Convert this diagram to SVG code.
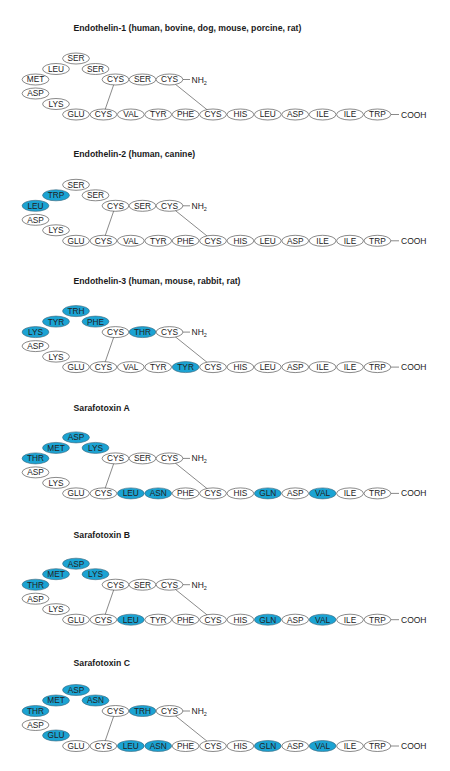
<svg xmlns="http://www.w3.org/2000/svg" width="450" height="771" viewBox="0 0 450 771">
<style>
.t{font-family:"Liberation Sans",Arial,sans-serif;font-weight:bold;font-size:8.7px;fill:#1a1a1a}
.n ellipse{fill:#fff;stroke:#4a4a4a;stroke-width:0.65}
.n.h ellipse{fill:#1ba3d3;stroke:#3d6a80}
.n text,.lab{font-family:"Liberation Sans",Arial,sans-serif;fill:#222}
.n text{text-anchor:middle;font-size:8.3px}
.lab{font-size:8.5px}
.c line{stroke:#4a4a4a;stroke-width:0.65}
</style>
<rect width="450" height="771" fill="#fff"/>

<g id="panel-1">
<text class="t" x="73.5" y="30.5">Endothelin-1 (human, bovine, dog, mouse, porcine, rat)</text>
<g id="p1-connectors" class="c"><line x1="115.5" y1="79.5" x2="103.4" y2="114.5"/><line x1="169.5" y1="79.5" x2="213" y2="114.5"/><line x1="183" y1="79.5" x2="190" y2="79.5"/><line x1="390.8" y1="114.5" x2="399" y2="114.5"/></g>
<g id="p1-l4" class="n"><ellipse cx="76" cy="58.5" rx="13.4" ry="5.5"/><text x="76" y="61.45">SER</text></g>
<g id="p1-l3" class="n"><ellipse cx="56" cy="69" rx="13.4" ry="5.5"/><text x="56" y="71.95">LEU</text></g>
<g id="p1-r1" class="n"><ellipse cx="95.5" cy="69" rx="13.4" ry="5.5"/><text x="95.5" y="71.95">SER</text></g>
<g id="p1-l2" class="n"><ellipse cx="35.5" cy="79.5" rx="13.4" ry="5.5"/><text x="35.5" y="82.45">MET</text></g>
<g id="p1-u1" class="n"><ellipse cx="115.5" cy="79.5" rx="13.4" ry="5.5"/><text x="115.5" y="82.45">CYS</text></g>
<g id="p1-u2" class="n"><ellipse cx="142.5" cy="79.5" rx="13.4" ry="5.5"/><text x="142.5" y="82.45">SER</text></g>
<g id="p1-u3" class="n"><ellipse cx="169.5" cy="79.5" rx="13.4" ry="5.5"/><text x="169.5" y="82.45">CYS</text></g>
<g id="p1-asp" class="n"><ellipse cx="35.5" cy="93.5" rx="13.4" ry="5.5"/><text x="35.5" y="96.45">ASP</text></g>
<g id="p1-lys" class="n"><ellipse cx="56" cy="104" rx="13.4" ry="5.5"/><text x="56" y="106.95">LYS</text></g>
<g id="p1-m1" class="n"><ellipse cx="76" cy="114.5" rx="13.4" ry="5.5"/><text x="76" y="117.45">GLU</text></g>
<g id="p1-m2" class="n"><ellipse cx="103.4" cy="114.5" rx="13.4" ry="5.5"/><text x="103.4" y="117.45">CYS</text></g>
<g id="p1-m3" class="n"><ellipse cx="130.8" cy="114.5" rx="13.4" ry="5.5"/><text x="130.8" y="117.45">VAL</text></g>
<g id="p1-m4" class="n"><ellipse cx="158.2" cy="114.5" rx="13.4" ry="5.5"/><text x="158.2" y="117.45">TYR</text></g>
<g id="p1-m5" class="n"><ellipse cx="185.6" cy="114.5" rx="13.4" ry="5.5"/><text x="185.6" y="117.45">PHE</text></g>
<g id="p1-m6" class="n"><ellipse cx="213" cy="114.5" rx="13.4" ry="5.5"/><text x="213" y="117.45">CYS</text></g>
<g id="p1-m7" class="n"><ellipse cx="240.4" cy="114.5" rx="13.4" ry="5.5"/><text x="240.4" y="117.45">HIS</text></g>
<g id="p1-m8" class="n"><ellipse cx="267.8" cy="114.5" rx="13.4" ry="5.5"/><text x="267.8" y="117.45">LEU</text></g>
<g id="p1-m9" class="n"><ellipse cx="295.2" cy="114.5" rx="13.4" ry="5.5"/><text x="295.2" y="117.45">ASP</text></g>
<g id="p1-m10" class="n"><ellipse cx="322.6" cy="114.5" rx="13.4" ry="5.5"/><text x="322.6" y="117.45">ILE</text></g>
<g id="p1-m11" class="n"><ellipse cx="350" cy="114.5" rx="13.4" ry="5.5"/><text x="350" y="117.45">ILE</text></g>
<g id="p1-m12" class="n"><ellipse cx="377.4" cy="114.5" rx="13.4" ry="5.5"/><text x="377.4" y="117.45">TRP</text></g>
<text class="lab" x="191.5" y="82.5">NH<tspan font-size="5.5" dy="2">2</tspan></text>
<text class="lab" x="401" y="117.5">COOH</text>
</g>

<g id="panel-2" transform="translate(0,126.3)">
<text class="t" x="73.5" y="31.2">Endothelin-2 (human, canine)</text>
<g id="p2-connectors" class="c"><line x1="115.5" y1="79.5" x2="103.4" y2="114.5"/><line x1="169.5" y1="79.5" x2="213" y2="114.5"/><line x1="183" y1="79.5" x2="190" y2="79.5"/><line x1="390.8" y1="114.5" x2="399" y2="114.5"/></g>
<g id="p2-l4" class="n"><ellipse cx="76" cy="58.5" rx="13.4" ry="5.5"/><text x="76" y="61.45">SER</text></g>
<g id="p2-l3" class="n h"><ellipse cx="56" cy="69" rx="13.4" ry="5.5"/><text x="56" y="71.95">TRP</text></g>
<g id="p2-r1" class="n"><ellipse cx="95.5" cy="69" rx="13.4" ry="5.5"/><text x="95.5" y="71.95">SER</text></g>
<g id="p2-l2" class="n h"><ellipse cx="35.5" cy="79.5" rx="13.4" ry="5.5"/><text x="35.5" y="82.45">LEU</text></g>
<g id="p2-u1" class="n"><ellipse cx="115.5" cy="79.5" rx="13.4" ry="5.5"/><text x="115.5" y="82.45">CYS</text></g>
<g id="p2-u2" class="n"><ellipse cx="142.5" cy="79.5" rx="13.4" ry="5.5"/><text x="142.5" y="82.45">SER</text></g>
<g id="p2-u3" class="n"><ellipse cx="169.5" cy="79.5" rx="13.4" ry="5.5"/><text x="169.5" y="82.45">CYS</text></g>
<g id="p2-asp" class="n"><ellipse cx="35.5" cy="93.5" rx="13.4" ry="5.5"/><text x="35.5" y="96.45">ASP</text></g>
<g id="p2-lys" class="n"><ellipse cx="56" cy="104" rx="13.4" ry="5.5"/><text x="56" y="106.95">LYS</text></g>
<g id="p2-m1" class="n"><ellipse cx="76" cy="114.5" rx="13.4" ry="5.5"/><text x="76" y="117.45">GLU</text></g>
<g id="p2-m2" class="n"><ellipse cx="103.4" cy="114.5" rx="13.4" ry="5.5"/><text x="103.4" y="117.45">CYS</text></g>
<g id="p2-m3" class="n"><ellipse cx="130.8" cy="114.5" rx="13.4" ry="5.5"/><text x="130.8" y="117.45">VAL</text></g>
<g id="p2-m4" class="n"><ellipse cx="158.2" cy="114.5" rx="13.4" ry="5.5"/><text x="158.2" y="117.45">TYR</text></g>
<g id="p2-m5" class="n"><ellipse cx="185.6" cy="114.5" rx="13.4" ry="5.5"/><text x="185.6" y="117.45">PHE</text></g>
<g id="p2-m6" class="n"><ellipse cx="213" cy="114.5" rx="13.4" ry="5.5"/><text x="213" y="117.45">CYS</text></g>
<g id="p2-m7" class="n"><ellipse cx="240.4" cy="114.5" rx="13.4" ry="5.5"/><text x="240.4" y="117.45">HIS</text></g>
<g id="p2-m8" class="n"><ellipse cx="267.8" cy="114.5" rx="13.4" ry="5.5"/><text x="267.8" y="117.45">LEU</text></g>
<g id="p2-m9" class="n"><ellipse cx="295.2" cy="114.5" rx="13.4" ry="5.5"/><text x="295.2" y="117.45">ASP</text></g>
<g id="p2-m10" class="n"><ellipse cx="322.6" cy="114.5" rx="13.4" ry="5.5"/><text x="322.6" y="117.45">ILE</text></g>
<g id="p2-m11" class="n"><ellipse cx="350" cy="114.5" rx="13.4" ry="5.5"/><text x="350" y="117.45">ILE</text></g>
<g id="p2-m12" class="n"><ellipse cx="377.4" cy="114.5" rx="13.4" ry="5.5"/><text x="377.4" y="117.45">TRP</text></g>
<text class="lab" x="191.5" y="82.5">NH<tspan font-size="5.5" dy="2">2</tspan></text>
<text class="lab" x="401" y="117.5">COOH</text>
</g>

<g id="panel-3" transform="translate(0,252.6)">
<text class="t" x="73.5" y="31.9">Endothelin-3 (human, mouse, rabbit, rat)</text>
<g id="p3-connectors" class="c"><line x1="115.5" y1="79.5" x2="103.4" y2="114.5"/><line x1="169.5" y1="79.5" x2="213" y2="114.5"/><line x1="183" y1="79.5" x2="190" y2="79.5"/><line x1="390.8" y1="114.5" x2="399" y2="114.5"/></g>
<g id="p3-l4" class="n h"><ellipse cx="76" cy="58.5" rx="13.4" ry="5.5"/><text x="76" y="61.45">TRH</text></g>
<g id="p3-l3" class="n h"><ellipse cx="56" cy="69" rx="13.4" ry="5.5"/><text x="56" y="71.95">TYR</text></g>
<g id="p3-r1" class="n h"><ellipse cx="95.5" cy="69" rx="13.4" ry="5.5"/><text x="95.5" y="71.95">PHE</text></g>
<g id="p3-l2" class="n h"><ellipse cx="35.5" cy="79.5" rx="13.4" ry="5.5"/><text x="35.5" y="82.45">LYS</text></g>
<g id="p3-u1" class="n"><ellipse cx="115.5" cy="79.5" rx="13.4" ry="5.5"/><text x="115.5" y="82.45">CYS</text></g>
<g id="p3-u2" class="n h"><ellipse cx="142.5" cy="79.5" rx="13.4" ry="5.5"/><text x="142.5" y="82.45">THR</text></g>
<g id="p3-u3" class="n"><ellipse cx="169.5" cy="79.5" rx="13.4" ry="5.5"/><text x="169.5" y="82.45">CYS</text></g>
<g id="p3-asp" class="n"><ellipse cx="35.5" cy="93.5" rx="13.4" ry="5.5"/><text x="35.5" y="96.45">ASP</text></g>
<g id="p3-lys" class="n"><ellipse cx="56" cy="104" rx="13.4" ry="5.5"/><text x="56" y="106.95">LYS</text></g>
<g id="p3-m1" class="n"><ellipse cx="76" cy="114.5" rx="13.4" ry="5.5"/><text x="76" y="117.45">GLU</text></g>
<g id="p3-m2" class="n"><ellipse cx="103.4" cy="114.5" rx="13.4" ry="5.5"/><text x="103.4" y="117.45">CYS</text></g>
<g id="p3-m3" class="n"><ellipse cx="130.8" cy="114.5" rx="13.4" ry="5.5"/><text x="130.8" y="117.45">VAL</text></g>
<g id="p3-m4" class="n"><ellipse cx="158.2" cy="114.5" rx="13.4" ry="5.5"/><text x="158.2" y="117.45">TYR</text></g>
<g id="p3-m5" class="n h"><ellipse cx="185.6" cy="114.5" rx="13.4" ry="5.5"/><text x="185.6" y="117.45">TYR</text></g>
<g id="p3-m6" class="n"><ellipse cx="213" cy="114.5" rx="13.4" ry="5.5"/><text x="213" y="117.45">CYS</text></g>
<g id="p3-m7" class="n"><ellipse cx="240.4" cy="114.5" rx="13.4" ry="5.5"/><text x="240.4" y="117.45">HIS</text></g>
<g id="p3-m8" class="n"><ellipse cx="267.8" cy="114.5" rx="13.4" ry="5.5"/><text x="267.8" y="117.45">LEU</text></g>
<g id="p3-m9" class="n"><ellipse cx="295.2" cy="114.5" rx="13.4" ry="5.5"/><text x="295.2" y="117.45">ASP</text></g>
<g id="p3-m10" class="n"><ellipse cx="322.6" cy="114.5" rx="13.4" ry="5.5"/><text x="322.6" y="117.45">ILE</text></g>
<g id="p3-m11" class="n"><ellipse cx="350" cy="114.5" rx="13.4" ry="5.5"/><text x="350" y="117.45">ILE</text></g>
<g id="p3-m12" class="n"><ellipse cx="377.4" cy="114.5" rx="13.4" ry="5.5"/><text x="377.4" y="117.45">TRP</text></g>
<text class="lab" x="191.5" y="82.5">NH<tspan font-size="5.5" dy="2">2</tspan></text>
<text class="lab" x="401" y="117.5">COOH</text>
</g>

<g id="panel-4" transform="translate(0,378.9)">
<text class="t" x="73.5" y="32.6">Sarafotoxin A</text>
<g id="p4-connectors" class="c"><line x1="115.5" y1="79.5" x2="103.4" y2="114.5"/><line x1="169.5" y1="79.5" x2="213" y2="114.5"/><line x1="183" y1="79.5" x2="190" y2="79.5"/><line x1="390.8" y1="114.5" x2="399" y2="114.5"/></g>
<g id="p4-l4" class="n h"><ellipse cx="76" cy="58.5" rx="13.4" ry="5.5"/><text x="76" y="61.45">ASP</text></g>
<g id="p4-l3" class="n h"><ellipse cx="56" cy="69" rx="13.4" ry="5.5"/><text x="56" y="71.95">MET</text></g>
<g id="p4-r1" class="n h"><ellipse cx="95.5" cy="69" rx="13.4" ry="5.5"/><text x="95.5" y="71.95">LYS</text></g>
<g id="p4-l2" class="n h"><ellipse cx="35.5" cy="79.5" rx="13.4" ry="5.5"/><text x="35.5" y="82.45">THR</text></g>
<g id="p4-u1" class="n"><ellipse cx="115.5" cy="79.5" rx="13.4" ry="5.5"/><text x="115.5" y="82.45">CYS</text></g>
<g id="p4-u2" class="n"><ellipse cx="142.5" cy="79.5" rx="13.4" ry="5.5"/><text x="142.5" y="82.45">SER</text></g>
<g id="p4-u3" class="n"><ellipse cx="169.5" cy="79.5" rx="13.4" ry="5.5"/><text x="169.5" y="82.45">CYS</text></g>
<g id="p4-asp" class="n"><ellipse cx="35.5" cy="93.5" rx="13.4" ry="5.5"/><text x="35.5" y="96.45">ASP</text></g>
<g id="p4-lys" class="n"><ellipse cx="56" cy="104" rx="13.4" ry="5.5"/><text x="56" y="106.95">LYS</text></g>
<g id="p4-m1" class="n"><ellipse cx="76" cy="114.5" rx="13.4" ry="5.5"/><text x="76" y="117.45">GLU</text></g>
<g id="p4-m2" class="n"><ellipse cx="103.4" cy="114.5" rx="13.4" ry="5.5"/><text x="103.4" y="117.45">CYS</text></g>
<g id="p4-m3" class="n h"><ellipse cx="130.8" cy="114.5" rx="13.4" ry="5.5"/><text x="130.8" y="117.45">LEU</text></g>
<g id="p4-m4" class="n h"><ellipse cx="158.2" cy="114.5" rx="13.4" ry="5.5"/><text x="158.2" y="117.45">ASN</text></g>
<g id="p4-m5" class="n"><ellipse cx="185.6" cy="114.5" rx="13.4" ry="5.5"/><text x="185.6" y="117.45">PHE</text></g>
<g id="p4-m6" class="n"><ellipse cx="213" cy="114.5" rx="13.4" ry="5.5"/><text x="213" y="117.45">CYS</text></g>
<g id="p4-m7" class="n"><ellipse cx="240.4" cy="114.5" rx="13.4" ry="5.5"/><text x="240.4" y="117.45">HIS</text></g>
<g id="p4-m8" class="n h"><ellipse cx="267.8" cy="114.5" rx="13.4" ry="5.5"/><text x="267.8" y="117.45">GLN</text></g>
<g id="p4-m9" class="n"><ellipse cx="295.2" cy="114.5" rx="13.4" ry="5.5"/><text x="295.2" y="117.45">ASP</text></g>
<g id="p4-m10" class="n h"><ellipse cx="322.6" cy="114.5" rx="13.4" ry="5.5"/><text x="322.6" y="117.45">VAL</text></g>
<g id="p4-m11" class="n"><ellipse cx="350" cy="114.5" rx="13.4" ry="5.5"/><text x="350" y="117.45">ILE</text></g>
<g id="p4-m12" class="n"><ellipse cx="377.4" cy="114.5" rx="13.4" ry="5.5"/><text x="377.4" y="117.45">TRP</text></g>
<text class="lab" x="191.5" y="82.5">NH<tspan font-size="5.5" dy="2">2</tspan></text>
<text class="lab" x="401" y="117.5">COOH</text>
</g>

<g id="panel-5" transform="translate(0,505.2)">
<text class="t" x="73.5" y="33.3">Sarafotoxin B</text>
<g id="p5-connectors" class="c"><line x1="115.5" y1="79.5" x2="103.4" y2="114.5"/><line x1="169.5" y1="79.5" x2="213" y2="114.5"/><line x1="183" y1="79.5" x2="190" y2="79.5"/><line x1="390.8" y1="114.5" x2="399" y2="114.5"/></g>
<g id="p5-l4" class="n h"><ellipse cx="76" cy="58.5" rx="13.4" ry="5.5"/><text x="76" y="61.45">ASP</text></g>
<g id="p5-l3" class="n h"><ellipse cx="56" cy="69" rx="13.4" ry="5.5"/><text x="56" y="71.95">MET</text></g>
<g id="p5-r1" class="n h"><ellipse cx="95.5" cy="69" rx="13.4" ry="5.5"/><text x="95.5" y="71.95">LYS</text></g>
<g id="p5-l2" class="n h"><ellipse cx="35.5" cy="79.5" rx="13.4" ry="5.5"/><text x="35.5" y="82.45">THR</text></g>
<g id="p5-u1" class="n"><ellipse cx="115.5" cy="79.5" rx="13.4" ry="5.5"/><text x="115.5" y="82.45">CYS</text></g>
<g id="p5-u2" class="n"><ellipse cx="142.5" cy="79.5" rx="13.4" ry="5.5"/><text x="142.5" y="82.45">SER</text></g>
<g id="p5-u3" class="n"><ellipse cx="169.5" cy="79.5" rx="13.4" ry="5.5"/><text x="169.5" y="82.45">CYS</text></g>
<g id="p5-asp" class="n"><ellipse cx="35.5" cy="93.5" rx="13.4" ry="5.5"/><text x="35.5" y="96.45">ASP</text></g>
<g id="p5-lys" class="n"><ellipse cx="56" cy="104" rx="13.4" ry="5.5"/><text x="56" y="106.95">LYS</text></g>
<g id="p5-m1" class="n"><ellipse cx="76" cy="114.5" rx="13.4" ry="5.5"/><text x="76" y="117.45">GLU</text></g>
<g id="p5-m2" class="n"><ellipse cx="103.4" cy="114.5" rx="13.4" ry="5.5"/><text x="103.4" y="117.45">CYS</text></g>
<g id="p5-m3" class="n h"><ellipse cx="130.8" cy="114.5" rx="13.4" ry="5.5"/><text x="130.8" y="117.45">LEU</text></g>
<g id="p5-m4" class="n"><ellipse cx="158.2" cy="114.5" rx="13.4" ry="5.5"/><text x="158.2" y="117.45">TYR</text></g>
<g id="p5-m5" class="n"><ellipse cx="185.6" cy="114.5" rx="13.4" ry="5.5"/><text x="185.6" y="117.45">PHE</text></g>
<g id="p5-m6" class="n"><ellipse cx="213" cy="114.5" rx="13.4" ry="5.5"/><text x="213" y="117.45">CYS</text></g>
<g id="p5-m7" class="n"><ellipse cx="240.4" cy="114.5" rx="13.4" ry="5.5"/><text x="240.4" y="117.45">HIS</text></g>
<g id="p5-m8" class="n h"><ellipse cx="267.8" cy="114.5" rx="13.4" ry="5.5"/><text x="267.8" y="117.45">GLN</text></g>
<g id="p5-m9" class="n"><ellipse cx="295.2" cy="114.5" rx="13.4" ry="5.5"/><text x="295.2" y="117.45">ASP</text></g>
<g id="p5-m10" class="n h"><ellipse cx="322.6" cy="114.5" rx="13.4" ry="5.5"/><text x="322.6" y="117.45">VAL</text></g>
<g id="p5-m11" class="n"><ellipse cx="350" cy="114.5" rx="13.4" ry="5.5"/><text x="350" y="117.45">ILE</text></g>
<g id="p5-m12" class="n"><ellipse cx="377.4" cy="114.5" rx="13.4" ry="5.5"/><text x="377.4" y="117.45">TRP</text></g>
<text class="lab" x="191.5" y="82.5">NH<tspan font-size="5.5" dy="2">2</tspan></text>
<text class="lab" x="401" y="117.5">COOH</text>
</g>

<g id="panel-6" transform="translate(0,631.5)">
<text class="t" x="73.5" y="34">Sarafotoxin C</text>
<g id="p6-connectors" class="c"><line x1="115.5" y1="79.5" x2="103.4" y2="114.5"/><line x1="169.5" y1="79.5" x2="213" y2="114.5"/><line x1="183" y1="79.5" x2="190" y2="79.5"/><line x1="390.8" y1="114.5" x2="399" y2="114.5"/></g>
<g id="p6-l4" class="n h"><ellipse cx="76" cy="58.5" rx="13.4" ry="5.5"/><text x="76" y="61.45">ASP</text></g>
<g id="p6-l3" class="n h"><ellipse cx="56" cy="69" rx="13.4" ry="5.5"/><text x="56" y="71.95">MET</text></g>
<g id="p6-r1" class="n h"><ellipse cx="95.5" cy="69" rx="13.4" ry="5.5"/><text x="95.5" y="71.95">ASN</text></g>
<g id="p6-l2" class="n h"><ellipse cx="35.5" cy="79.5" rx="13.4" ry="5.5"/><text x="35.5" y="82.45">THR</text></g>
<g id="p6-u1" class="n"><ellipse cx="115.5" cy="79.5" rx="13.4" ry="5.5"/><text x="115.5" y="82.45">CYS</text></g>
<g id="p6-u2" class="n h"><ellipse cx="142.5" cy="79.5" rx="13.4" ry="5.5"/><text x="142.5" y="82.45">TRH</text></g>
<g id="p6-u3" class="n"><ellipse cx="169.5" cy="79.5" rx="13.4" ry="5.5"/><text x="169.5" y="82.45">CYS</text></g>
<g id="p6-asp" class="n"><ellipse cx="35.5" cy="93.5" rx="13.4" ry="5.5"/><text x="35.5" y="96.45">ASP</text></g>
<g id="p6-glu" class="n h"><ellipse cx="56" cy="104" rx="13.4" ry="5.5"/><text x="56" y="106.95">GLU</text></g>
<g id="p6-m1" class="n"><ellipse cx="76" cy="114.5" rx="13.4" ry="5.5"/><text x="76" y="117.45">GLU</text></g>
<g id="p6-m2" class="n"><ellipse cx="103.4" cy="114.5" rx="13.4" ry="5.5"/><text x="103.4" y="117.45">CYS</text></g>
<g id="p6-m3" class="n h"><ellipse cx="130.8" cy="114.5" rx="13.4" ry="5.5"/><text x="130.8" y="117.45">LEU</text></g>
<g id="p6-m4" class="n h"><ellipse cx="158.2" cy="114.5" rx="13.4" ry="5.5"/><text x="158.2" y="117.45">ASN</text></g>
<g id="p6-m5" class="n"><ellipse cx="185.6" cy="114.5" rx="13.4" ry="5.5"/><text x="185.6" y="117.45">PHE</text></g>
<g id="p6-m6" class="n"><ellipse cx="213" cy="114.5" rx="13.4" ry="5.5"/><text x="213" y="117.45">CYS</text></g>
<g id="p6-m7" class="n"><ellipse cx="240.4" cy="114.5" rx="13.4" ry="5.5"/><text x="240.4" y="117.45">HIS</text></g>
<g id="p6-m8" class="n h"><ellipse cx="267.8" cy="114.5" rx="13.4" ry="5.5"/><text x="267.8" y="117.45">GLN</text></g>
<g id="p6-m9" class="n"><ellipse cx="295.2" cy="114.5" rx="13.4" ry="5.5"/><text x="295.2" y="117.45">ASP</text></g>
<g id="p6-m10" class="n h"><ellipse cx="322.6" cy="114.5" rx="13.4" ry="5.5"/><text x="322.6" y="117.45">VAL</text></g>
<g id="p6-m11" class="n"><ellipse cx="350" cy="114.5" rx="13.4" ry="5.5"/><text x="350" y="117.45">ILE</text></g>
<g id="p6-m12" class="n"><ellipse cx="377.4" cy="114.5" rx="13.4" ry="5.5"/><text x="377.4" y="117.45">TRP</text></g>
<text class="lab" x="191.5" y="82.5">NH<tspan font-size="5.5" dy="2">2</tspan></text>
<text class="lab" x="401" y="117.5">COOH</text>
</g>
</svg>
